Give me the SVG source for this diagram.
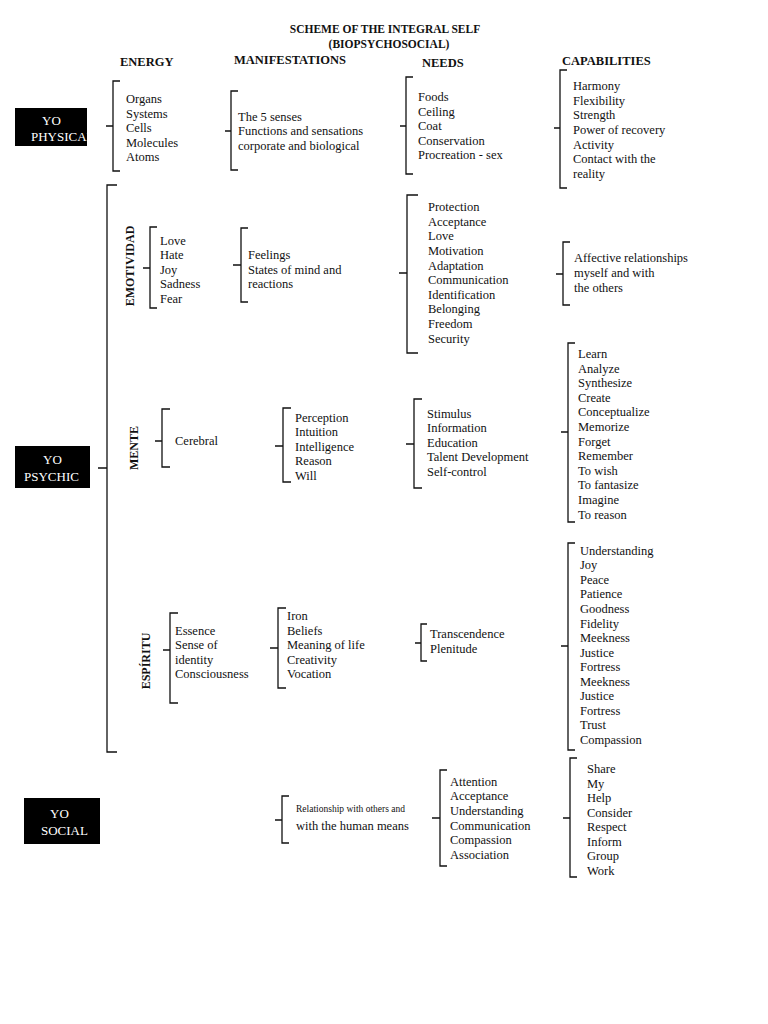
<svg xmlns="http://www.w3.org/2000/svg" width="768" height="1024" viewBox="0 0 768 1024">
<style>
text{font-family:"Liberation Serif","Times New Roman",serif;font-size:12.5px;fill:#111}
.h{font-weight:bold;font-size:12.5px}
.t{font-weight:bold;font-size:11.5px}
.v{font-weight:bold;font-size:12px}
.w{fill:#fff;font-size:13px}
.b{fill:none;stroke:#111;stroke-width:1.3}
</style>
<defs><clipPath id="c1"><rect x="15" y="108" width="72" height="38"/></clipPath></defs>
<rect width="768" height="1024" fill="#fff"/>
<text class="t" x="385" y="33" text-anchor="middle">SCHEME OF THE INTEGRAL SELF</text>
<text class="t" x="389" y="48" text-anchor="middle">(BIOPSYCHOSOCIAL)</text>
<text class="h" x="120" y="66">ENERGY</text>
<text class="h" x="234" y="64">MANIFESTATIONS</text>
<text class="h" x="422" y="67">NEEDS</text>
<text class="h" x="562" y="65">CAPABILITIES</text>

<g id="connectors">
<path class="b" d="M120,81 H113 V171 H120 M106,126 H113"/>
<path class="b" d="M238,91 H231 V170 H238 M225,131 H231"/>
<path class="b" d="M413,77 H406 V174 H413 M400,126 H406"/>
<path class="b" d="M567,70 H560 V188 H567 M554,128 H560"/>
<path class="b" d="M117,185 H107 V752 H117 M98,468 H107"/>
<path class="b" d="M157,227 H150 V308 H157 M143,268 H150"/>
<path class="b" d="M248,228 H241 V302 H248 M233,265 H241"/>
<path class="b" d="M418,195 H407 V353 H418 M399,273 H407"/>
<path class="b" d="M570,242 H563 V305 H570 M556,274 H563"/>
<path class="b" d="M575,343 H568 V522 H575 M561,432 H568"/>
<path class="b" d="M170,409 H162 V467 H170 M155,441 H162"/>
<path class="b" d="M291,408 H283 V482 H291 M275,446 H283"/>
<path class="b" d="M422,399 H414 V488 H422 M406,444 H414"/>
<path class="b" d="M178,613 H170 V703 H178 M163,650 H170"/>
<path class="b" d="M286,608 H278 V688 H286 M270,648 H278"/>
<path class="b" d="M427,624 H421 V661 H427 M415,643 H421"/>
<path class="b" d="M575,543 H568 V750 H575 M561,646 H568"/>
<path class="b" d="M289,796 H282 V843 H289 M275,820 H282"/>
<path class="b" d="M447,770 H440 V866 H447 M432,818 H440"/>
<path class="b" d="M577,758 H570 V877 H577 M563,818 H570"/>
</g>

<g id="yo-physica">
<rect x="15" y="108" width="72" height="38" fill="#000"/>
<g clip-path="url(#c1)"><text class="w" x="42" y="125">YO</text><text class="w" x="31" y="141">PHYSICAL</text></g>
</g>
<g id="energy-phys"><text x="126" y="103">Organs</text><text x="126" y="118">Systems</text><text x="126" y="132">Cells</text><text x="126" y="147">Molecules</text><text x="126" y="161">Atoms</text></g>
<g id="manif-phys"><text x="238" y="121">The 5 senses</text><text x="238" y="135">Functions and sensations</text><text x="238" y="150">corporate and biological</text></g>
<g id="needs-phys"><text x="418" y="101">Foods</text><text x="418" y="116">Ceiling</text><text x="418" y="130">Coat</text><text x="418" y="145">Conservation</text><text x="418" y="159">Procreation - sex</text></g>
<g id="cap-phys"><text x="573" y="90">Harmony</text><text x="573" y="105">Flexibility</text><text x="573" y="119">Strength</text><text x="573" y="134">Power of recovery</text><text x="573" y="149">Activity</text><text x="573" y="163">Contact with the</text><text x="573" y="178">reality</text></g>

<g id="yo-psychic">
<rect x="15" y="446" width="75" height="42" fill="#000"/>
<text class="w" x="43" y="464">YO</text><text class="w" x="24" y="481">PSYCHIC</text>
</g>
<g id="emotividad"><text class="v" transform="translate(134,266) rotate(-90)" text-anchor="middle">EMOTIVIDAD</text>
<text x="160" y="245">Love</text><text x="160" y="259">Hate</text><text x="160" y="274">Joy</text><text x="160" y="288">Sadness</text><text x="160" y="303">Fear</text></g>
<g id="feelings"><text x="248" y="259">Feelings</text><text x="248" y="274">States of mind and</text><text x="248" y="288">reactions</text></g>
<g id="needs-emo"><text x="428" y="211">Protection</text><text x="428" y="226">Acceptance</text><text x="428" y="240">Love</text><text x="428" y="255">Motivation</text><text x="428" y="270">Adaptation</text><text x="428" y="284">Communication</text><text x="428" y="299">Identification</text><text x="428" y="313">Belonging</text><text x="428" y="328">Freedom</text><text x="428" y="343">Security</text></g>
<g id="cap-emo"><text x="574" y="262">Affective relationships</text><text x="574" y="277">myself and with</text><text x="574" y="292">the others</text></g>

<g id="mente"><text class="v" transform="translate(138,448) rotate(-90)" text-anchor="middle">MENTE</text><text x="175" y="445">Cerebral</text></g>
<g id="manif-mente"><text x="295" y="422">Perception</text><text x="295" y="436">Intuition</text><text x="295" y="451">Intelligence</text><text x="295" y="465">Reason</text><text x="295" y="480">Will</text></g>
<g id="needs-mente"><text x="427" y="418">Stimulus</text><text x="427" y="432">Information</text><text x="427" y="447">Education</text><text x="427" y="461">Talent Development</text><text x="427" y="476">Self-control</text></g>
<g id="cap-mente"><text x="578" y="358">Learn</text><text x="578" y="373">Analyze</text><text x="578" y="387">Synthesize</text><text x="578" y="402">Create</text><text x="578" y="416">Conceptualize</text><text x="578" y="431">Memorize</text><text x="578" y="446">Forget</text><text x="578" y="460">Remember</text><text x="578" y="475">To wish</text><text x="578" y="489">To fantasize</text><text x="578" y="504">Imagine</text><text x="578" y="519">To reason</text></g>

<g id="espiritu"><text class="v" transform="translate(150,661) rotate(-90)" text-anchor="middle">ESPÍRITU</text>
<text x="175" y="635">Essence</text><text x="175" y="649">Sense of</text><text x="175" y="664">identity</text><text x="175" y="678">Consciousness</text></g>
<g id="manif-esp"><text x="287" y="620">Iron</text><text x="287" y="635">Beliefs</text><text x="287" y="649">Meaning of life</text><text x="287" y="664">Creativity</text><text x="287" y="678">Vocation</text></g>
<g id="needs-esp"><text x="430" y="638">Transcendence</text><text x="430" y="653">Plenitude</text></g>
<g id="cap-esp"><text x="580" y="555">Understanding</text><text x="580" y="569">Joy</text><text x="580" y="584">Peace</text><text x="580" y="598">Patience</text><text x="580" y="613">Goodness</text><text x="580" y="628">Fidelity</text><text x="580" y="642">Meekness</text><text x="580" y="657">Justice</text><text x="580" y="671">Fortress</text><text x="580" y="686">Meekness</text><text x="580" y="700">Justice</text><text x="580" y="715">Fortress</text><text x="580" y="729">Trust</text><text x="580" y="744">Compassion</text></g>

<g id="yo-social">
<rect x="24" y="798" width="76" height="46" fill="#000"/>
<text class="w" x="50" y="818">YO</text><text class="w" x="41" y="835">SOCIAL</text>
</g>
<g id="manif-social"><text x="296" y="812" style="font-size:9.5px">Relationship with others and</text><text x="296" y="830">with the human means</text></g>
<g id="needs-social"><text x="450" y="786">Attention</text><text x="450" y="800">Acceptance</text><text x="450" y="815">Understanding</text><text x="450" y="830">Communication</text><text x="450" y="844">Compassion</text><text x="450" y="859">Association</text></g>
<g id="cap-social"><text x="587" y="773">Share</text><text x="587" y="788">My</text><text x="587" y="802">Help</text><text x="587" y="817">Consider</text><text x="587" y="831">Respect</text><text x="587" y="846">Inform</text><text x="587" y="860">Group</text><text x="587" y="875">Work</text></g>
</svg>
